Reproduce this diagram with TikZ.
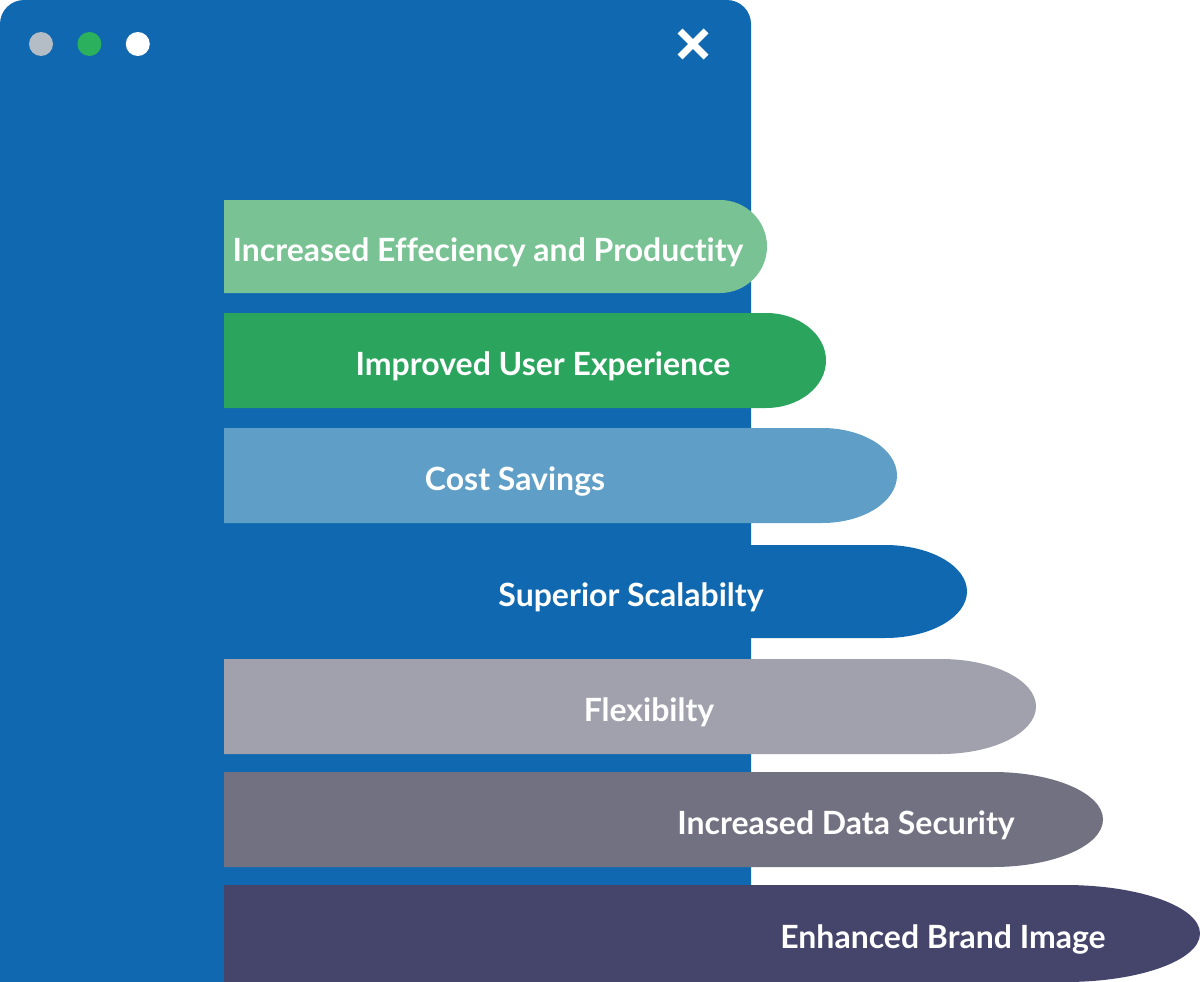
\documentclass[tikz,border=0pt]{standalone}
\usepackage{fontspec}
\setmainfont{Lato}[Ligatures=NoCommon]
\usetikzlibrary{positioning}
\definecolor{winblue}{HTML}{1069B0}
\definecolor{dotgray}{HTML}{B4BCC6}
\definecolor{dotgreen}{HTML}{2BB05E}
\definecolor{cmint}{HTML}{79C293}
\definecolor{cgreen}{HTML}{2BA55E}
\definecolor{csky}{HTML}{5F9EC6}
\definecolor{cblue}{HTML}{1069B0}
\definecolor{clgray}{HTML}{A0A1AD}
\definecolor{cslate}{HTML}{727182}
\definecolor{cnavy}{HTML}{45456B}
\tikzset{
  barlab/.style={text=white,font=\bfseries\fontsize{32}{36}\selectfont,inner sep=0pt,anchor=base},
  dot/.style={circle,inner sep=0pt,minimum size=24pt},
}
\begin{document}
\begin{tikzpicture}[x=1pt,y=-1pt]
  \useasboundingbox (0,0) rectangle (1200,982);
  % window
  \fill[winblue] (0,982) [rounded corners=24pt] -- (0,0) -- (751,0) [sharp corners] -- (751,982) -- cycle;
  \node[dot,fill=dotgray] (dotA) at (41,44) {};
  \node[dot,fill=dotgreen,right=24pt of dotA] (dotB) {};
  \node[dot,fill=white,right=24pt of dotB] (dotC) {};
  \draw[white,line width=7pt] (680,31) -- (706,57) (706,31) -- (680,57);
  % bars
  \foreach \t/\b/\r/\c/\col/\tx/\lab [count=\i] in {
      200/293/767/47/cmint/488/Increased Effeciency and Productity,
      313/408/826/60/cgreen/543/Improved User Experience,
      428/523/897/75/csky/515/Cost Savings,
      545/638/967/82/cblue/631/Superior Scalabilty,
      659/754/1036/95/clgray/649/Flexibilty,
      772/867/1103/110/cslate/846/Increased Data Security,
      885/982/1200/135/cnavy/943/Enhanced Brand Image} {
    \pgfmathsetmacro\m{(\t+\b)/2}
    \pgfmathsetmacro\h{(\b-\t)/2}
    \fill[\col] (224,\t) -- (\r-\c,\t) .. controls (\r-\c+0.552*\c,\t) and (\r,\m-0.552*\h) .. (\r,\m)
      .. controls (\r,\m+0.552*\h) and (\r-\c+0.552*\c,\b) .. (\r-\c,\b) -- (224,\b) -- cycle;
    \node[barlab] (lab\i) at (\tx,\m+15) {\lab};
  }
\end{tikzpicture}
\end{document}
